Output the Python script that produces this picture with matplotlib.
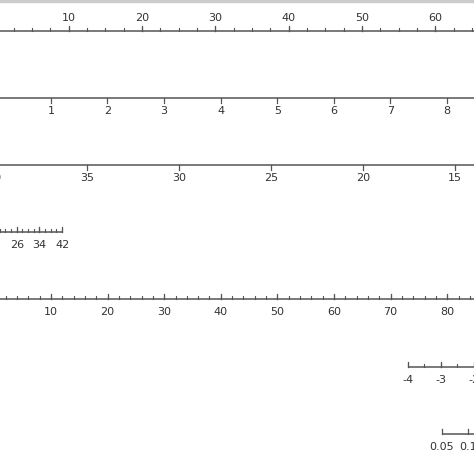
import matplotlib.pyplot as plt
import numpy as np

# Nomogram scales (cropped view). Each scale: tick values and pixel anchors.
points_major = [0, 10, 20, 30, 40, 50, 60, 70]
points_minor = np.arange(0, 72.5, 2.5)

var1_major = [0, 1, 2, 3, 4, 5, 6, 7, 8, 9]
var2_major = [40, 35, 30, 25, 20, 15]
var3_major = [18, 26, 34, 42]
var3_minor = np.arange(18, 43, 2)
total_major = [0, 10, 20, 30, 40, 50, 60, 70, 80, 90]
total_minor = np.arange(0, 92, 2)
lp_major = [-4, -3, -2]
lp_minor = np.arange(-4, -1.9, 0.5)
risk_major = [0.05, 0.1]
risk_pos = [442, 468]

INK = "#555555"
TXT = "#333333"
FS = 8

fig = plt.figure(figsize=(4.74, 4.74), dpi=100)
ax = fig.add_axes([0, 0, 1, 1])
ax.set_xlim(0, 474)
ax.set_ylim(474, 0)
ax.axis("off")


def scale(vals, x0, dx):
    return [x0 + v * dx for v in vals]


def draw_axis(y, xs_major, labels, xs_minor=None, up=True, label_above=False,
              x_start=None, x_end=480, hide_zero=False):
    ax.plot([x_start if x_start is not None else -10, x_end], [y, y], color=INK, lw=1.1,
            solid_capstyle="butt")
    s = -1 if up else 1
    for x in xs_major:
        ax.plot([x, x], [y, y + s * 5], color=INK, lw=0.9)
    if xs_minor is not None:
        for x in xs_minor:
            ax.plot([x, x], [y, y + s * 3], color=INK, lw=0.8)
    for x, lab in zip(xs_major, labels):
        if hide_zero and x < 0:
            continue
        if label_above:
            ax.text(x, y - 8, lab, ha="center", va="bottom", fontsize=FS, color=TXT)
        else:
            ax.text(x, y + 8, lab, ha="center", va="top", fontsize=FS, color=TXT)


# light frame line at top
ax.plot([0, 474], [1, 1], color="#cccccc", lw=2.5)

draw_axis(31, scale(points_major, -4.6, 7.33), [str(v) for v in points_major],
          scale(points_minor, -4.6, 7.33), up=True, label_above=True, hide_zero=True)
draw_axis(97.5, scale(var1_major, -5.7, 56.6), [str(v) for v in var1_major], up=False,
          hide_zero=True)
draw_axis(165, scale([40 - v for v in var2_major], -5.3, 18.4),
          [str(v) for v in var2_major], up=False)
draw_axis(232, scale([v - 18 for v in var3_major], -6, 2.84), [str(v) for v in var3_major],
          scale([v - 18 for v in var3_minor], -6, 2.84), up=True, x_end=62)
draw_axis(299, scale(total_major, -5.6, 5.66), [str(v) for v in total_major],
          scale(total_minor, -5.6, 5.66), up=True, hide_zero=True)
draw_axis(367, scale([v + 4 for v in lp_major], 408, 33),
          [str(v) for v in lp_major], scale([v + 4 for v in lp_minor], 408, 33),
          up=True, x_start=408)
draw_axis(434, risk_pos, [str(v) for v in risk_major], up=True, x_start=442)

fig.savefig("out.png", dpi=100)
